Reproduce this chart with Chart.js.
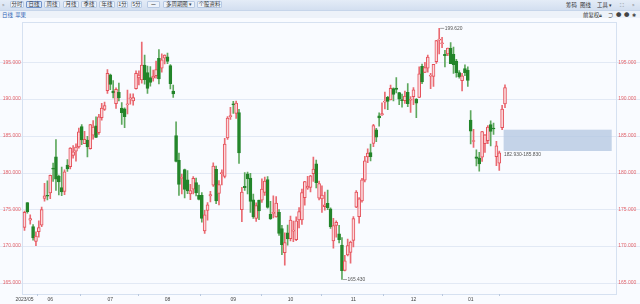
<!DOCTYPE html>
<html><head><meta charset="utf-8">
<script src="https://cdn.jsdelivr.net/npm/chart.js@4/dist/chart.umd.min.js"></script>
<style>
html,body{margin:0;padding:0;background:#f9fbff;width:640px;height:304px;overflow:hidden;font-family:"Noto Sans CJK SC","Noto Sans",sans-serif;}
#bar1{position:absolute;left:0;top:0;width:640px;height:10px;background:linear-gradient(#e4ecf7,#d3dff0);border-bottom:1px solid #c6d5ea;}
#bar2{position:absolute;left:0;top:11px;width:640px;height:7px;background:#edf2f9;}
.btn{position:absolute;top:1.3px;height:7px;box-sizing:border-box;border:1px solid #b7c9e3;background:#ecf2fa;font-size:5.4px;line-height:5px;text-align:center;color:#3a3a3a;border-radius:1px;white-space:nowrap;}
.sel{border-color:#7093cc;background:#dce7f6;}
.t{position:absolute;font-size:5.4px;line-height:6px;color:#333;white-space:nowrap}
#cv{position:absolute;left:0;top:0;}
</style></head>
<body>
<div id="bar1">
  <span class="t" style="left:2px;top:1.5px;color:#777">»</span>
  <span class="btn" style="left:10px;width:14px">分时</span>
  <span class="btn sel" style="left:26px;width:16px">日线</span>
  <span class="btn" style="left:44px;width:16px">周线</span>
  <span class="btn" style="left:63px;width:16px">月线</span>
  <span class="btn" style="left:81px;width:16px">季线</span>
  <span class="btn" style="left:99px;width:16px">年线</span>
  <span class="btn" style="left:117px;width:11px">1分</span>
  <span class="btn" style="left:131px;width:11px">5分</span>
  <span class="btn" style="left:147px;width:13px;font-weight:bold">—</span>
  <span class="btn" style="left:163px;width:32px">多周期图 ▾</span>
  <span class="btn" style="left:197px;width:25px">个股资料</span>
  <span class="t" style="left:566px;top:1.5px">筹码</span>
  <span class="t" style="left:580px;top:1.5px">图线</span>
  <span class="t" style="left:597px;top:1.5px">工具 ▾</span>
  <span class="t" style="left:620px;top:1.5px;color:#777">⛶</span>
  <span class="t" style="left:632px;top:1.5px;color:#777">»</span>
</div>
<div id="bar2">
  <span class="t" style="left:2px;top:0.5px;color:#2f62b5">日线&nbsp;&nbsp;苹果</span>
  <span class="t" style="left:583px;top:0.5px">前复权</span>
  <span class="t" style="left:599px;top:0.5px;color:#444">🔒&#xFE0E;</span>
  <span class="t" style="left:608px;top:0.5px;color:#444">⊃</span>
  <span class="t" style="left:616px;top:0.5px;color:#444">●</span>
  <span class="t" style="left:624px;top:0.5px;color:#444">●</span>
  <span class="t" style="left:632px;top:0.5px;color:#444">✱</span>
</div>
<canvas id="cv" width="640" height="304"></canvas>
<script>
// ---- data (苹果 AAPL, 日线, 前复权) ----
const dates = [
"2023-05-18","2023-05-19","2023-05-22","2023-05-23","2023-05-24","2023-05-25","2023-05-26","2023-05-30","2023-05-31",
"2023-06-01","2023-06-02","2023-06-05","2023-06-06","2023-06-07","2023-06-08","2023-06-09","2023-06-12","2023-06-13","2023-06-14","2023-06-15","2023-06-16","2023-06-20","2023-06-21","2023-06-22","2023-06-23","2023-06-26","2023-06-27","2023-06-28","2023-06-29","2023-06-30",
"2023-07-03","2023-07-05","2023-07-06","2023-07-07","2023-07-10","2023-07-11","2023-07-12","2023-07-13","2023-07-14","2023-07-17","2023-07-18","2023-07-19","2023-07-20","2023-07-21","2023-07-24","2023-07-25","2023-07-26","2023-07-27","2023-07-28","2023-07-31",
"2023-08-01","2023-08-02","2023-08-03","2023-08-04","2023-08-07","2023-08-08","2023-08-09","2023-08-10","2023-08-11","2023-08-14","2023-08-15","2023-08-16","2023-08-17","2023-08-18","2023-08-21","2023-08-22","2023-08-23","2023-08-24","2023-08-25","2023-08-28","2023-08-29","2023-08-30","2023-08-31",
"2023-09-01","2023-09-05","2023-09-06","2023-09-07","2023-09-08","2023-09-11","2023-09-12","2023-09-13","2023-09-14","2023-09-15","2023-09-18","2023-09-19","2023-09-20","2023-09-21","2023-09-22","2023-09-25","2023-09-26","2023-09-27","2023-09-28","2023-09-29",
"2023-10-02","2023-10-03","2023-10-04","2023-10-05","2023-10-06","2023-10-09","2023-10-10","2023-10-11","2023-10-12","2023-10-13","2023-10-16","2023-10-17","2023-10-18","2023-10-19","2023-10-20","2023-10-23","2023-10-24","2023-10-25","2023-10-26","2023-10-27","2023-10-30","2023-10-31",
"2023-11-01","2023-11-02","2023-11-03","2023-11-06","2023-11-07","2023-11-08","2023-11-09","2023-11-10","2023-11-13","2023-11-14","2023-11-15","2023-11-16","2023-11-17","2023-11-20","2023-11-21","2023-11-22","2023-11-24","2023-11-27","2023-11-28","2023-11-29","2023-11-30",
"2023-12-01","2023-12-04","2023-12-05","2023-12-06","2023-12-07","2023-12-08","2023-12-11","2023-12-12","2023-12-13","2023-12-14","2023-12-15","2023-12-18","2023-12-19","2023-12-20","2023-12-21","2023-12-22","2023-12-26","2023-12-27","2023-12-28","2023-12-29",
"2024-01-02","2024-01-03","2024-01-04","2024-01-05","2024-01-08","2024-01-09","2024-01-10","2024-01-11","2024-01-12","2024-01-16","2024-01-17","2024-01-18","2024-01-19"];

const open = [172.52,175.91,173.50,172.65,170.61,171.93,172.84,176.48,176.85,
177.22,180.55,182.15,179.49,177.96,177.42,181.02,180.79,182.32,182.89,183.48,186.25,183.93,184.42,183.26,185.07,186.35,185.41,187.45,188.60,191.15,
193.30,191.09,189.36,190.93,188.78,188.68,189.20,190.02,189.75,191.42,192.87,192.62,194.61,193.62,192.93,192.85,193.19,195.54,194.19,195.58,
195.76,194.56,191.09,185.04,181.65,179.21,180.39,179.00,177.08,177.73,178.64,176.89,176.90,172.06,174.83,176.82,178.28,180.43,177.14,179.85,179.46,184.70,187.60,
189.25,188.04,188.16,174.94,178.11,179.83,179.25,176.27,173.76,176.24,176.24,177.28,179.02,174.31,174.43,173.96,174.58,172.38,169.10,171.78,
170.98,172.02,170.85,173.55,173.56,176.57,177.86,177.96,179.83,181.18,176.51,176.41,175.34,175.80,175.07,170.67,172.81,171.64,170.13,166.67,168.78,169.11,
170.76,175.28,174.00,176.14,178.94,182.11,182.72,183.97,185.82,187.70,187.85,189.57,190.25,189.89,191.41,191.49,190.87,189.92,189.78,190.90,189.84,
190.33,189.98,190.21,194.45,193.63,194.20,193.11,193.08,195.09,198.02,197.53,196.09,196.16,196.90,196.10,195.18,193.61,192.49,194.14,193.90,
187.15,184.22,182.15,181.99,182.09,183.92,184.35,186.54,186.06,182.16,181.27,186.09,189.33];

const high = [174.76,175.91,174.23,172.90,171.94,173.42,175.29,178.51,178.87,
179.64,181.30,184.47,179.64,180.73,180.36,181.75,183.41,183.67,183.91,186.04,186.51,185.62,184.93,186.57,187.08,187.57,187.91,189.42,189.59,194.00,
193.40,192.50,191.54,192.19,189.51,188.82,191.22,190.71,190.70,193.84,193.85,197.75,195.99,194.49,194.43,193.96,195.16,196.72,196.15,196.01,
196.25,194.70,191.89,186.90,182.65,179.79,180.45,180.27,178.38,179.45,179.24,178.30,177.27,174.86,175.89,177.44,181.31,180.86,178.91,180.35,184.66,187.61,188.88,
189.68,189.74,188.61,177.97,180.00,180.06,179.89,177.06,175.86,176.26,179.14,179.39,179.46,176.06,176.84,176.73,174.96,172.80,171.79,172.83,
174.06,173.39,173.97,175.21,177.75,178.81,179.48,179.61,182.10,181.69,178.84,178.18,177.34,177.60,175.18,173.77,173.43,172.82,171.14,168.72,170.93,170.66,
173.99,177.54,176.58,179.19,182.20,183.21,183.88,186.57,186.03,188.11,189.50,190.96,190.38,191.91,191.52,192.93,190.90,190.67,191.08,192.09,190.32,
191.56,190.05,194.40,194.76,195.00,195.99,193.49,194.72,198.00,199.62,198.40,196.63,196.95,197.68,197.08,195.41,193.89,193.50,194.66,194.40,
188.44,185.88,183.09,182.76,185.60,185.15,186.40,187.05,186.74,184.26,182.93,189.14,191.95];

const low = [172.10,174.46,172.97,170.80,170.04,171.21,172.63,176.09,176.28,
176.45,178.78,177.56,176.95,176.84,176.98,180.15,180.49,181.96,181.54,183.30,183.79,183.93,182.11,183.19,184.53,184.75,185.19,187.12,188.46,190.78,
191.28,190.14,188.72,189.76,186.56,186.12,187.99,189.30,189.15,191.33,191.94,192.17,192.02,190.75,191.77,192.44,192.84,192.07,193.66,194.78,
194.80,191.37,190.21,181.44,176.87,177.10,176.53,177.12,176.31,177.07,176.81,176.26,173.24,171.72,173.50,176.01,178.09,175.77,175.58,178.31,179.26,184.50,187.24,
188.04,187.37,181.23,173.30,177.55,177.10,174.58,173.74,173.34,173.58,175.93,176.89,175.16,173.62,173.81,173.91,171.42,168.81,167.38,170.10,
170.69,170.58,170.73,172.44,172.94,175.56,177.71,177.36,178.80,177.90,176.27,174.56,174.87,174.95,172.40,169.69,171.21,170.41,165.43,166.59,168.63,167.66,
169.88,175.22,173.11,175.97,178.73,181.35,181.57,183.53,184.21,186.30,187.78,188.65,188.57,189.88,189.74,190.83,189.25,188.90,189.40,188.97,188.19,
189.23,187.45,190.18,192.11,193.59,193.67,191.42,191.72,194.85,196.16,197.00,194.39,195.89,194.83,193.50,192.97,192.83,191.09,193.17,191.73,
183.89,183.43,180.88,180.17,181.50,182.73,183.92,183.62,185.19,180.93,180.30,185.83,188.82];

const close = [174.57,174.68,173.72,171.08,171.36,172.51,174.95,176.82,176.77,
179.61,180.47,179.10,178.73,177.34,180.09,180.48,183.31,182.83,183.47,185.53,184.44,184.53,183.48,186.52,186.20,184.79,187.58,188.77,189.11,193.49,
191.98,190.85,191.33,190.20,188.13,187.60,189.29,190.06,190.21,193.51,193.25,194.62,192.65,191.46,192.27,193.14,194.02,192.74,195.35,195.97,
195.13,192.10,190.69,181.51,178.37,179.32,177.71,177.49,177.55,179.22,177.21,176.33,173.76,174.25,175.60,176.99,180.88,176.14,178.37,179.95,183.88,187.41,187.63,
189.22,189.46,182.67,177.32,177.94,179.12,176.06,173.97,175.50,174.77,177.73,178.83,175.25,173.69,174.55,175.84,171.72,170.19,170.45,170.97,
173.51,172.16,173.42,174.67,177.25,178.75,178.15,179.56,180.47,178.61,178.48,176.91,175.60,175.22,172.64,172.76,173.20,170.86,166.65,167.98,170.05,170.53,
173.73,177.33,176.41,178.99,181.58,182.65,182.17,186.40,184.80,187.44,188.01,189.71,189.69,191.45,190.64,191.31,189.97,189.79,190.40,189.37,189.95,
191.24,189.43,193.42,192.32,194.27,195.71,193.18,194.71,197.96,198.11,197.57,195.89,196.94,194.83,194.68,193.60,193.05,193.15,193.58,192.53,
185.64,184.25,181.91,181.18,185.56,185.14,186.19,185.59,185.92,183.63,182.68,188.63,191.56];

const yTicks = [165, 170, 175, 180, 185, 190, 195];
const monthLabels = ["2023/05","06","07","08","09","10","11","12","01"];
const gapBefore = 166, gapAfter = 167;   // 跳空缺口: high of day before, low of day after

// ---- derived helpers ----
const monthIdx = [];
dates.forEach((d,i)=>{ if(i===0 || d.slice(0,7)!==dates[i-1].slice(0,7)) monthIdx.push(i); });
const isUp = i => close[i] >= open[i];
const wickData = dates.map((d,i)=>({x:i, y:[low[i], high[i]]}));
const bodyData = dates.map((d,i)=>({x:i, y:[open[i], close[i]]}));
let hiI = 0, loI = 0;
high.forEach((v,i)=>{ if(v>high[hiI]) hiI=i; });
low.forEach((v,i)=>{ if(v<low[loI]) loI=i; });

const RED='#e5505a', PINK='#fbd9dc', GREEN='#23852a', LGREEN='#5ea85e', LBL='#e4646b';

const decor = {
  id:'decor',
  beforeDraw(chart){
    const {ctx, chartArea:a, scales:{y}} = chart;
    ctx.save();
    ctx.fillStyle='#f9fbff'; ctx.fillRect(0,18,640,286);
    ctx.strokeStyle='#e2e9f5'; ctx.lineWidth=1;
    yTicks.forEach(v=>{ const py=Math.round(y.getPixelForValue(v))+0.5;
      ctx.beginPath(); ctx.moveTo(0,py); ctx.lineTo(640,py); ctx.stroke(); });
    ctx.strokeStyle='#d6e1f1';
    ctx.strokeRect(Math.round(a.left)+0.5, Math.round(a.top)+0.5, Math.round(a.right-a.left), Math.round(a.bottom-a.top));
    ctx.restore();
  },
  beforeDatasetsDraw(chart){
    const {ctx, chartArea:a, scales:{x,y}} = chart;
    const x0 = x.getPixelForValue(gapAfter)+1.5, x1 = a.right-5;
    const yt = y.getPixelForValue(low[gapAfter]), yb = y.getPixelForValue(high[gapBefore]);
    ctx.save();
    ctx.fillStyle='rgba(178,197,224,0.75)';
    ctx.fillRect(x0, yt, x1-x0, yb-yt);
    ctx.restore();
  },
  afterDatasetsDraw(chart){
    const {ctx, scales:{x,y}} = chart;
    ctx.save();
    ctx.font='4.9px "Liberation Sans", Arial, sans-serif';
    ctx.fillStyle='#555'; ctx.strokeStyle='#666'; ctx.lineWidth=0.6;
    ctx.textBaseline='middle';
    const mark=(i,v)=>{ const px=x.getPixelForValue(i), py=y.getPixelForValue(v);
      ctx.beginPath(); ctx.moveTo(px+1,py); ctx.lineTo(px+5,py); ctx.stroke();
      ctx.fillText(v.toFixed(3), px+5.5, py+0.3); };
    mark(hiI, high[hiI]);
    mark(loI, low[loI]);
    const gx = x.getPixelForValue(gapAfter)+1.8, gy = y.getPixelForValue(high[gapBefore])+3.8;
    ctx.fillText(high[gapBefore].toFixed(3)+'-'+low[gapAfter].toFixed(3), gx, gy);
    ctx.restore();
  }
};

const yCommon = {
  type:'linear', min:163.46, max:200.53,
  afterBuildTicks: s => { s.ticks = yTicks.map(v=>({value:v})); },
  grid:{display:false, drawTicks:false},
  border:{display:false},
  ticks:{color:LBL, font:{size:5, family:'"Liberation Sans", Arial, sans-serif'}, padding:1.5,
         callback: v => Number(v).toFixed(3)}
};

new Chart(document.getElementById('cv'), {
  type:'bar',
  data:{ datasets:[
    { data: bodyData, order:0, grouped:false, barThickness:3, minBarLength:1,
      borderSkipped:false, borderWidth:1,
      backgroundColor: c => isUp(c.dataIndex) ? PINK : GREEN,
      borderColor: c => isUp(c.dataIndex) ? RED : GREEN },
    { data: wickData, order:1, grouped:false, barThickness:1, borderWidth:0,
      backgroundColor: c => isUp(c.dataIndex) ? '#ea6a72' : LGREEN }
  ]},
  plugins:[decor],
  options:{
    responsive:false, animation:false, events:[],
    layout:{padding:{top:21.7, left:0, right:0, bottom:0}},
    plugins:{legend:{display:false}, tooltip:{enabled:false}},
    scales:{
      x:{ type:'linear', min:-0.77, max:207.06, offset:false,
          afterFit: s => { s.height = 10; },
          afterBuildTicks: s => { s.ticks = monthIdx.map(v=>({value:v})); },
          grid:{drawOnChartArea:false, drawTicks:true, tickLength:2, color:'#b9c8de'},
          border:{display:false},
          ticks:{ color:'#444', autoSkip:false, maxRotation:0, padding:0.5,
                  font:{size:5, family:'"Liberation Sans", Arial, sans-serif'},
                  callback: v => monthLabels[monthIdx.indexOf(v)] } },
      y:Object.assign({}, yCommon, {position:'left', afterFit: s => { s.width = 22.3; }}),
      y2:Object.assign({}, yCommon, {position:'right', afterFit: s => { s.width = 23.3; }})
    }
  }
});
</script>
</body></html>
